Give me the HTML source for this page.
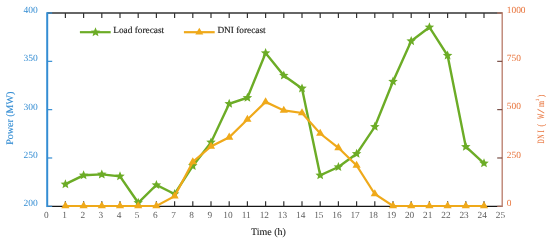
<!DOCTYPE html>
<html><head><meta charset="utf-8"><style>html,body{margin:0;padding:0;background:#fff;width:550px;height:245px;overflow:hidden}svg{display:block;text-rendering:geometricPrecision}</style></head>
<body><svg width="550" height="245" viewBox="0 0 550 245">
<rect width="550" height="245" fill="#fff"/>
<line x1="47.2" y1="13.0" x2="502.2" y2="13.0" stroke="#333333" stroke-width="1.3"/>
<line x1="47.2" y1="206.3" x2="502.2" y2="206.3" stroke="#151515" stroke-width="1.15"/>
<line x1="65.40" y1="13.0" x2="65.40" y2="18.0" stroke="#333333" stroke-width="1.2"/>
<line x1="65.40" y1="206.3" x2="65.40" y2="201.3" stroke="#333333" stroke-width="1.2"/>
<line x1="83.60" y1="13.0" x2="83.60" y2="18.0" stroke="#333333" stroke-width="1.2"/>
<line x1="83.60" y1="206.3" x2="83.60" y2="201.3" stroke="#333333" stroke-width="1.2"/>
<line x1="101.80" y1="13.0" x2="101.80" y2="18.0" stroke="#333333" stroke-width="1.2"/>
<line x1="101.80" y1="206.3" x2="101.80" y2="201.3" stroke="#333333" stroke-width="1.2"/>
<line x1="120.00" y1="13.0" x2="120.00" y2="18.0" stroke="#333333" stroke-width="1.2"/>
<line x1="120.00" y1="206.3" x2="120.00" y2="201.3" stroke="#333333" stroke-width="1.2"/>
<line x1="138.20" y1="13.0" x2="138.20" y2="18.0" stroke="#333333" stroke-width="1.2"/>
<line x1="138.20" y1="206.3" x2="138.20" y2="201.3" stroke="#333333" stroke-width="1.2"/>
<line x1="156.40" y1="13.0" x2="156.40" y2="18.0" stroke="#333333" stroke-width="1.2"/>
<line x1="156.40" y1="206.3" x2="156.40" y2="201.3" stroke="#333333" stroke-width="1.2"/>
<line x1="174.60" y1="13.0" x2="174.60" y2="18.0" stroke="#333333" stroke-width="1.2"/>
<line x1="174.60" y1="206.3" x2="174.60" y2="201.3" stroke="#333333" stroke-width="1.2"/>
<line x1="192.80" y1="13.0" x2="192.80" y2="18.0" stroke="#333333" stroke-width="1.2"/>
<line x1="192.80" y1="206.3" x2="192.80" y2="201.3" stroke="#333333" stroke-width="1.2"/>
<line x1="211.00" y1="13.0" x2="211.00" y2="18.0" stroke="#333333" stroke-width="1.2"/>
<line x1="211.00" y1="206.3" x2="211.00" y2="201.3" stroke="#333333" stroke-width="1.2"/>
<line x1="229.20" y1="13.0" x2="229.20" y2="18.0" stroke="#333333" stroke-width="1.2"/>
<line x1="229.20" y1="206.3" x2="229.20" y2="201.3" stroke="#333333" stroke-width="1.2"/>
<line x1="247.40" y1="13.0" x2="247.40" y2="18.0" stroke="#333333" stroke-width="1.2"/>
<line x1="247.40" y1="206.3" x2="247.40" y2="201.3" stroke="#333333" stroke-width="1.2"/>
<line x1="265.60" y1="13.0" x2="265.60" y2="18.0" stroke="#333333" stroke-width="1.2"/>
<line x1="265.60" y1="206.3" x2="265.60" y2="201.3" stroke="#333333" stroke-width="1.2"/>
<line x1="283.80" y1="13.0" x2="283.80" y2="18.0" stroke="#333333" stroke-width="1.2"/>
<line x1="283.80" y1="206.3" x2="283.80" y2="201.3" stroke="#333333" stroke-width="1.2"/>
<line x1="302.00" y1="13.0" x2="302.00" y2="18.0" stroke="#333333" stroke-width="1.2"/>
<line x1="302.00" y1="206.3" x2="302.00" y2="201.3" stroke="#333333" stroke-width="1.2"/>
<line x1="320.20" y1="13.0" x2="320.20" y2="18.0" stroke="#333333" stroke-width="1.2"/>
<line x1="320.20" y1="206.3" x2="320.20" y2="201.3" stroke="#333333" stroke-width="1.2"/>
<line x1="338.40" y1="13.0" x2="338.40" y2="18.0" stroke="#333333" stroke-width="1.2"/>
<line x1="338.40" y1="206.3" x2="338.40" y2="201.3" stroke="#333333" stroke-width="1.2"/>
<line x1="356.60" y1="13.0" x2="356.60" y2="18.0" stroke="#333333" stroke-width="1.2"/>
<line x1="356.60" y1="206.3" x2="356.60" y2="201.3" stroke="#333333" stroke-width="1.2"/>
<line x1="374.80" y1="13.0" x2="374.80" y2="18.0" stroke="#333333" stroke-width="1.2"/>
<line x1="374.80" y1="206.3" x2="374.80" y2="201.3" stroke="#333333" stroke-width="1.2"/>
<line x1="393.00" y1="13.0" x2="393.00" y2="18.0" stroke="#333333" stroke-width="1.2"/>
<line x1="393.00" y1="206.3" x2="393.00" y2="201.3" stroke="#333333" stroke-width="1.2"/>
<line x1="411.20" y1="13.0" x2="411.20" y2="18.0" stroke="#333333" stroke-width="1.2"/>
<line x1="411.20" y1="206.3" x2="411.20" y2="201.3" stroke="#333333" stroke-width="1.2"/>
<line x1="429.40" y1="13.0" x2="429.40" y2="18.0" stroke="#333333" stroke-width="1.2"/>
<line x1="429.40" y1="206.3" x2="429.40" y2="201.3" stroke="#333333" stroke-width="1.2"/>
<line x1="447.60" y1="13.0" x2="447.60" y2="18.0" stroke="#333333" stroke-width="1.2"/>
<line x1="447.60" y1="206.3" x2="447.60" y2="201.3" stroke="#333333" stroke-width="1.2"/>
<line x1="465.80" y1="13.0" x2="465.80" y2="18.0" stroke="#333333" stroke-width="1.2"/>
<line x1="465.80" y1="206.3" x2="465.80" y2="201.3" stroke="#333333" stroke-width="1.2"/>
<line x1="484.00" y1="13.0" x2="484.00" y2="18.0" stroke="#333333" stroke-width="1.2"/>
<line x1="484.00" y1="206.3" x2="484.00" y2="201.3" stroke="#333333" stroke-width="1.2"/>
<line x1="47.2" y1="12.25" x2="47.2" y2="207.05" stroke="#348dd3" stroke-width="2"/>
<line x1="47.2" y1="206.30" x2="52.2" y2="206.30" stroke="#348dd3" stroke-width="1.15"/>
<line x1="47.2" y1="157.98" x2="52.2" y2="157.98" stroke="#348dd3" stroke-width="1.2"/>
<line x1="47.2" y1="109.65" x2="52.2" y2="109.65" stroke="#348dd3" stroke-width="1.2"/>
<line x1="47.2" y1="61.33" x2="52.2" y2="61.33" stroke="#348dd3" stroke-width="1.2"/>
<line x1="47.2" y1="13.00" x2="52.2" y2="13.00" stroke="#348dd3" stroke-width="1.3"/>
<line x1="502.2" y1="12.35" x2="502.2" y2="206.9" stroke="#b87a68" stroke-width="1.3"/>
<line x1="502.2" y1="206.30" x2="497.2" y2="206.30" stroke="#b87a68" stroke-width="1.15"/>
<line x1="502.2" y1="157.98" x2="497.2" y2="157.98" stroke="#6e4038" stroke-width="1.1"/>
<line x1="502.2" y1="109.65" x2="497.2" y2="109.65" stroke="#6e4038" stroke-width="1.1"/>
<line x1="502.2" y1="61.33" x2="497.2" y2="61.33" stroke="#6e4038" stroke-width="1.1"/>
<line x1="502.2" y1="13.00" x2="497.2" y2="13.00" stroke="#b87a68" stroke-width="1.3"/>
<polyline points="65.40,184.20 83.60,175.30 101.80,174.40 120.00,176.30 138.20,202.80 156.40,185.00 174.60,194.00 192.80,165.90 211.00,142.40 229.20,103.80 247.40,97.70 265.60,53.00 283.80,75.50 302.00,88.40 320.20,175.30 338.40,167.00 356.60,153.80 374.80,126.80 393.00,81.50 411.20,41.10 429.40,27.20 447.60,55.50 465.80,146.70 484.00,163.30" fill="none" stroke="#6cac26" stroke-width="2.4" stroke-linejoin="miter"/>
<polygon points="65.40,179.20 66.72,182.38 70.16,182.65 67.54,184.90 68.34,188.25 65.40,186.45 62.46,188.25 63.26,184.90 60.64,182.65 64.08,182.38" fill="#6cac26"/>
<polygon points="83.60,170.30 84.92,173.48 88.36,173.75 85.74,176.00 86.54,179.35 83.60,177.55 80.66,179.35 81.46,176.00 78.84,173.75 82.28,173.48" fill="#6cac26"/>
<polygon points="101.80,169.40 103.12,172.58 106.56,172.85 103.94,175.10 104.74,178.45 101.80,176.65 98.86,178.45 99.66,175.10 97.04,172.85 100.48,172.58" fill="#6cac26"/>
<polygon points="120.00,171.30 121.32,174.48 124.76,174.75 122.14,177.00 122.94,180.35 120.00,178.55 117.06,180.35 117.86,177.00 115.24,174.75 118.68,174.48" fill="#6cac26"/>
<polygon points="138.20,197.80 139.52,200.98 142.96,201.25 140.34,203.50 141.14,206.85 138.20,205.05 135.26,206.85 136.06,203.50 133.44,201.25 136.88,200.98" fill="#6cac26"/>
<polygon points="156.40,180.00 157.72,183.18 161.16,183.45 158.54,185.70 159.34,189.05 156.40,187.25 153.46,189.05 154.26,185.70 151.64,183.45 155.08,183.18" fill="#6cac26"/>
<polygon points="174.60,189.00 175.92,192.18 179.36,192.45 176.74,194.70 177.54,198.05 174.60,196.25 171.66,198.05 172.46,194.70 169.84,192.45 173.28,192.18" fill="#6cac26"/>
<polygon points="192.80,160.90 194.12,164.08 197.56,164.35 194.94,166.60 195.74,169.95 192.80,168.15 189.86,169.95 190.66,166.60 188.04,164.35 191.48,164.08" fill="#6cac26"/>
<polygon points="211.00,137.40 212.32,140.58 215.76,140.85 213.14,143.10 213.94,146.45 211.00,144.65 208.06,146.45 208.86,143.10 206.24,140.85 209.68,140.58" fill="#6cac26"/>
<polygon points="229.20,98.80 230.52,101.98 233.96,102.25 231.34,104.50 232.14,107.85 229.20,106.05 226.26,107.85 227.06,104.50 224.44,102.25 227.88,101.98" fill="#6cac26"/>
<polygon points="247.40,92.70 248.72,95.88 252.16,96.15 249.54,98.40 250.34,101.75 247.40,99.95 244.46,101.75 245.26,98.40 242.64,96.15 246.08,95.88" fill="#6cac26"/>
<polygon points="265.60,48.00 266.92,51.18 270.36,51.45 267.74,53.70 268.54,57.05 265.60,55.25 262.66,57.05 263.46,53.70 260.84,51.45 264.28,51.18" fill="#6cac26"/>
<polygon points="283.80,70.50 285.12,73.68 288.56,73.95 285.94,76.20 286.74,79.55 283.80,77.75 280.86,79.55 281.66,76.20 279.04,73.95 282.48,73.68" fill="#6cac26"/>
<polygon points="302.00,83.40 303.32,86.58 306.76,86.85 304.14,89.10 304.94,92.45 302.00,90.65 299.06,92.45 299.86,89.10 297.24,86.85 300.68,86.58" fill="#6cac26"/>
<polygon points="320.20,170.30 321.52,173.48 324.96,173.75 322.34,176.00 323.14,179.35 320.20,177.55 317.26,179.35 318.06,176.00 315.44,173.75 318.88,173.48" fill="#6cac26"/>
<polygon points="338.40,162.00 339.72,165.18 343.16,165.45 340.54,167.70 341.34,171.05 338.40,169.25 335.46,171.05 336.26,167.70 333.64,165.45 337.08,165.18" fill="#6cac26"/>
<polygon points="356.60,148.80 357.92,151.98 361.36,152.25 358.74,154.50 359.54,157.85 356.60,156.05 353.66,157.85 354.46,154.50 351.84,152.25 355.28,151.98" fill="#6cac26"/>
<polygon points="374.80,121.80 376.12,124.98 379.56,125.25 376.94,127.50 377.74,130.85 374.80,129.05 371.86,130.85 372.66,127.50 370.04,125.25 373.48,124.98" fill="#6cac26"/>
<polygon points="393.00,76.50 394.32,79.68 397.76,79.95 395.14,82.20 395.94,85.55 393.00,83.75 390.06,85.55 390.86,82.20 388.24,79.95 391.68,79.68" fill="#6cac26"/>
<polygon points="411.20,36.10 412.52,39.28 415.96,39.55 413.34,41.80 414.14,45.15 411.20,43.35 408.26,45.15 409.06,41.80 406.44,39.55 409.88,39.28" fill="#6cac26"/>
<polygon points="429.40,22.20 430.72,25.38 434.16,25.65 431.54,27.90 432.34,31.25 429.40,29.45 426.46,31.25 427.26,27.90 424.64,25.65 428.08,25.38" fill="#6cac26"/>
<polygon points="447.60,50.50 448.92,53.68 452.36,53.95 449.74,56.20 450.54,59.55 447.60,57.75 444.66,59.55 445.46,56.20 442.84,53.95 446.28,53.68" fill="#6cac26"/>
<polygon points="465.80,141.70 467.12,144.88 470.56,145.15 467.94,147.40 468.74,150.75 465.80,148.95 462.86,150.75 463.66,147.40 461.04,145.15 464.48,144.88" fill="#6cac26"/>
<polygon points="484.00,158.30 485.32,161.48 488.76,161.75 486.14,164.00 486.94,167.35 484.00,165.55 481.06,167.35 481.86,164.00 479.24,161.75 482.68,161.48" fill="#6cac26"/>
<polyline points="65.40,206.00 83.60,206.00 101.80,206.00 120.00,206.00 138.20,206.00 156.40,206.00 174.60,196.20 192.80,162.00 211.00,146.40 229.20,137.30 247.40,119.50 265.60,101.90 283.80,110.40 302.00,113.00 320.20,133.50 338.40,147.80 356.60,165.50 374.80,194.00 393.00,206.00 411.20,206.00 429.40,206.00 447.60,206.00 465.80,206.00 484.00,206.00" fill="none" stroke="#efa91a" stroke-width="2.2" stroke-linejoin="miter"/>
<polygon points="65.40,201.27 69.50,208.37 61.30,208.37" fill="#efa91a"/>
<polygon points="83.60,201.27 87.70,208.37 79.50,208.37" fill="#efa91a"/>
<polygon points="101.80,201.27 105.90,208.37 97.70,208.37" fill="#efa91a"/>
<polygon points="120.00,201.27 124.10,208.37 115.90,208.37" fill="#efa91a"/>
<polygon points="138.20,201.27 142.30,208.37 134.10,208.37" fill="#efa91a"/>
<polygon points="156.40,201.27 160.50,208.37 152.30,208.37" fill="#efa91a"/>
<polygon points="174.60,191.47 178.70,198.57 170.50,198.57" fill="#efa91a"/>
<polygon points="192.80,157.27 196.90,164.37 188.70,164.37" fill="#efa91a"/>
<polygon points="211.00,141.67 215.10,148.77 206.90,148.77" fill="#efa91a"/>
<polygon points="229.20,132.57 233.30,139.67 225.10,139.67" fill="#efa91a"/>
<polygon points="247.40,114.77 251.50,121.87 243.30,121.87" fill="#efa91a"/>
<polygon points="265.60,97.17 269.70,104.27 261.50,104.27" fill="#efa91a"/>
<polygon points="283.80,105.67 287.90,112.77 279.70,112.77" fill="#efa91a"/>
<polygon points="302.00,108.27 306.10,115.37 297.90,115.37" fill="#efa91a"/>
<polygon points="320.20,128.77 324.30,135.87 316.10,135.87" fill="#efa91a"/>
<polygon points="338.40,143.07 342.50,150.17 334.30,150.17" fill="#efa91a"/>
<polygon points="356.60,160.77 360.70,167.87 352.50,167.87" fill="#efa91a"/>
<polygon points="374.80,189.27 378.90,196.37 370.70,196.37" fill="#efa91a"/>
<polygon points="393.00,201.27 397.10,208.37 388.90,208.37" fill="#efa91a"/>
<polygon points="411.20,201.27 415.30,208.37 407.10,208.37" fill="#efa91a"/>
<polygon points="429.40,201.27 433.50,208.37 425.30,208.37" fill="#efa91a"/>
<polygon points="447.60,201.27 451.70,208.37 443.50,208.37" fill="#efa91a"/>
<polygon points="465.80,201.27 469.90,208.37 461.70,208.37" fill="#efa91a"/>
<polygon points="484.00,201.27 488.10,208.37 479.90,208.37" fill="#efa91a"/>
<line x1="79.9" y1="32.2" x2="110.7" y2="32.2" stroke="#6cac26" stroke-width="2.2"/>
<polygon points="95.50,27.30 96.82,30.48 100.26,30.75 97.64,33.00 98.44,36.35 95.50,34.55 92.56,36.35 93.36,33.00 90.74,30.75 94.18,30.48" fill="#6cac26"/>
<line x1="183.9" y1="32.2" x2="214.7" y2="32.2" stroke="#efa91a" stroke-width="2.2"/>
<polygon points="199.30,27.77 203.30,34.57 195.30,34.57" fill="#efa91a"/>
<text x="113.3" y="32.5" font-family="Liberation Serif, Times New Roman, serif" font-size="9.3" fill="#1a1a1a" stroke="#1a1a1a" stroke-width="0.15">Load forecast</text>
<text x="217.4" y="32.5" font-family="Liberation Serif, Times New Roman, serif" font-size="9.3" fill="#1a1a1a" stroke="#1a1a1a" stroke-width="0.15">DNI forecast</text>
<text x="46.40" y="218.2" font-family="Liberation Serif, Times New Roman, serif" font-size="9.3" fill="#5e5e5e" text-anchor="middle">0</text>
<text x="64.56" y="218.2" font-family="Liberation Serif, Times New Roman, serif" font-size="9.3" fill="#5e5e5e" text-anchor="middle">1</text>
<text x="82.72" y="218.2" font-family="Liberation Serif, Times New Roman, serif" font-size="9.3" fill="#5e5e5e" text-anchor="middle">2</text>
<text x="100.88" y="218.2" font-family="Liberation Serif, Times New Roman, serif" font-size="9.3" fill="#5e5e5e" text-anchor="middle">3</text>
<text x="119.04" y="218.2" font-family="Liberation Serif, Times New Roman, serif" font-size="9.3" fill="#5e5e5e" text-anchor="middle">4</text>
<text x="137.20" y="218.2" font-family="Liberation Serif, Times New Roman, serif" font-size="9.3" fill="#5e5e5e" text-anchor="middle">5</text>
<text x="155.36" y="218.2" font-family="Liberation Serif, Times New Roman, serif" font-size="9.3" fill="#5e5e5e" text-anchor="middle">6</text>
<text x="173.52" y="218.2" font-family="Liberation Serif, Times New Roman, serif" font-size="9.3" fill="#5e5e5e" text-anchor="middle">7</text>
<text x="191.68" y="218.2" font-family="Liberation Serif, Times New Roman, serif" font-size="9.3" fill="#5e5e5e" text-anchor="middle">8</text>
<text x="209.84" y="218.2" font-family="Liberation Serif, Times New Roman, serif" font-size="9.3" fill="#5e5e5e" text-anchor="middle">9</text>
<text x="228.00" y="218.2" font-family="Liberation Serif, Times New Roman, serif" font-size="9.3" fill="#5e5e5e" text-anchor="middle">10</text>
<text x="246.16" y="218.2" font-family="Liberation Serif, Times New Roman, serif" font-size="9.3" fill="#5e5e5e" text-anchor="middle">11</text>
<text x="264.32" y="218.2" font-family="Liberation Serif, Times New Roman, serif" font-size="9.3" fill="#5e5e5e" text-anchor="middle">12</text>
<text x="282.48" y="218.2" font-family="Liberation Serif, Times New Roman, serif" font-size="9.3" fill="#5e5e5e" text-anchor="middle">13</text>
<text x="300.64" y="218.2" font-family="Liberation Serif, Times New Roman, serif" font-size="9.3" fill="#5e5e5e" text-anchor="middle">14</text>
<text x="318.80" y="218.2" font-family="Liberation Serif, Times New Roman, serif" font-size="9.3" fill="#5e5e5e" text-anchor="middle">15</text>
<text x="336.96" y="218.2" font-family="Liberation Serif, Times New Roman, serif" font-size="9.3" fill="#5e5e5e" text-anchor="middle">16</text>
<text x="355.12" y="218.2" font-family="Liberation Serif, Times New Roman, serif" font-size="9.3" fill="#5e5e5e" text-anchor="middle">17</text>
<text x="373.28" y="218.2" font-family="Liberation Serif, Times New Roman, serif" font-size="9.3" fill="#5e5e5e" text-anchor="middle">18</text>
<text x="391.44" y="218.2" font-family="Liberation Serif, Times New Roman, serif" font-size="9.3" fill="#5e5e5e" text-anchor="middle">19</text>
<text x="409.60" y="218.2" font-family="Liberation Serif, Times New Roman, serif" font-size="9.3" fill="#5e5e5e" text-anchor="middle">20</text>
<text x="427.76" y="218.2" font-family="Liberation Serif, Times New Roman, serif" font-size="9.3" fill="#5e5e5e" text-anchor="middle">21</text>
<text x="445.92" y="218.2" font-family="Liberation Serif, Times New Roman, serif" font-size="9.3" fill="#5e5e5e" text-anchor="middle">22</text>
<text x="464.08" y="218.2" font-family="Liberation Serif, Times New Roman, serif" font-size="9.3" fill="#5e5e5e" text-anchor="middle">23</text>
<text x="482.24" y="218.2" font-family="Liberation Serif, Times New Roman, serif" font-size="9.3" fill="#5e5e5e" text-anchor="middle">24</text>
<text x="500.40" y="218.2" font-family="Liberation Serif, Times New Roman, serif" font-size="9.3" fill="#5e5e5e" text-anchor="middle">25</text>
<text x="37.8" y="206.20" font-family="Liberation Serif, Times New Roman, serif" font-size="9.5" fill="#348dd3" text-anchor="end">200</text>
<text x="37.8" y="157.88" font-family="Liberation Serif, Times New Roman, serif" font-size="9.5" fill="#348dd3" text-anchor="end">250</text>
<text x="37.8" y="109.55" font-family="Liberation Serif, Times New Roman, serif" font-size="9.5" fill="#348dd3" text-anchor="end">300</text>
<text x="37.8" y="61.23" font-family="Liberation Serif, Times New Roman, serif" font-size="9.5" fill="#348dd3" text-anchor="end">350</text>
<text x="37.8" y="12.90" font-family="Liberation Serif, Times New Roman, serif" font-size="9.5" fill="#348dd3" text-anchor="end">400</text>
<text x="506.8" y="206.10" font-family="Liberation Serif, Times New Roman, serif" font-size="9.4" fill="#e8743c">0</text>
<text x="506.8" y="157.78" font-family="Liberation Serif, Times New Roman, serif" font-size="9.4" fill="#e8743c">250</text>
<text x="506.8" y="109.45" font-family="Liberation Serif, Times New Roman, serif" font-size="9.4" fill="#e8743c">500</text>
<text x="506.8" y="61.13" font-family="Liberation Serif, Times New Roman, serif" font-size="9.4" fill="#e8743c">750</text>
<text x="506.8" y="12.80" font-family="Liberation Serif, Times New Roman, serif" font-size="9.4" fill="#e8743c">1000</text>
<text x="268.5" y="235.2" font-family="Liberation Serif, Times New Roman, serif" font-size="10" fill="#1a1a1a" stroke="#1a1a1a" stroke-width="0.1" text-anchor="middle">Time (h)</text>
<text transform="translate(13.2,118.3) rotate(-90)" font-family="Liberation Serif, Times New Roman, serif" font-size="10" fill="#348dd3" stroke="#348dd3" stroke-width="0.12" text-anchor="middle">Power (MW)</text>
<text transform="translate(543.90,143.50) rotate(-90) scale(0.6,1)" font-family="Liberation Serif, Times New Roman, serif" font-size="9.6" fill="#e8743c" stroke="#e8743c" stroke-width="0.12">D</text>
<text transform="translate(543.90,138.70) rotate(-90) scale(0.64,1)" font-family="Liberation Serif, Times New Roman, serif" font-size="9.6" fill="#e8743c" stroke="#e8743c" stroke-width="0.12">N</text>
<text transform="translate(543.90,132.50) rotate(-90) scale(0.7,1)" font-family="Liberation Serif, Times New Roman, serif" font-size="9.6" fill="#e8743c" stroke="#e8743c" stroke-width="0.12">I</text>
<text transform="translate(543.90,126.60) rotate(-90) scale(0.75,1)" font-family="Liberation Serif, Times New Roman, serif" font-size="9.6" fill="#e8743c" stroke="#e8743c" stroke-width="0.12">(</text>
<text transform="translate(543.90,119.00) rotate(-90) scale(0.58,1)" font-family="Liberation Serif, Times New Roman, serif" font-size="9.6" fill="#e8743c" stroke="#e8743c" stroke-width="0.12">W</text>
<text transform="translate(543.90,113.30) rotate(-90) scale(1.6,1)" font-family="Liberation Serif, Times New Roman, serif" font-size="9.6" fill="#e8743c" stroke="#e8743c" stroke-width="0.12">/</text>
<text transform="translate(543.90,107.10) rotate(-90) scale(0.82,1)" font-family="Liberation Serif, Times New Roman, serif" font-size="9.6" fill="#e8743c" stroke="#e8743c" stroke-width="0.12">m</text>
<text transform="translate(539.00,100.60) rotate(-90) scale(0.7,1)" font-family="Liberation Serif, Times New Roman, serif" font-size="4.8" fill="#e8743c" stroke="#e8743c" stroke-width="0.12">2</text>
<text transform="translate(543.90,97.20) rotate(-90) scale(0.75,1)" font-family="Liberation Serif, Times New Roman, serif" font-size="9.6" fill="#e8743c" stroke="#e8743c" stroke-width="0.12">)</text>
</svg></body></html>
